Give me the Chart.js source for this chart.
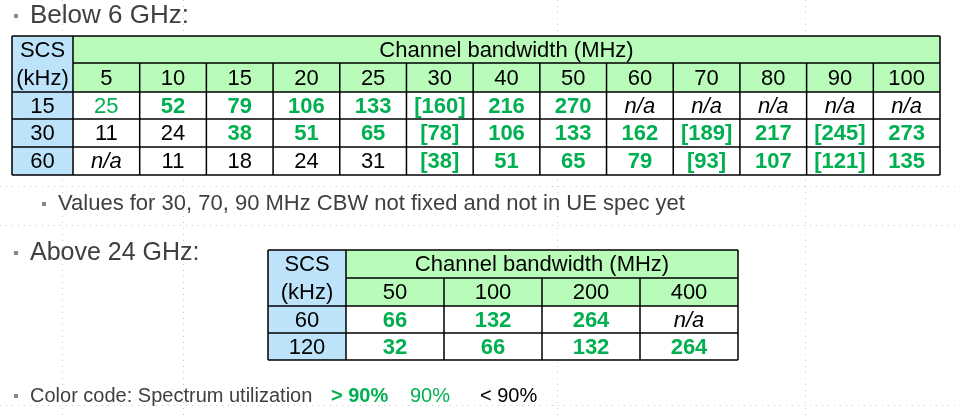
<!DOCTYPE html>
<html lang="en">
<head>
    <meta charset="UTF-8">
    <title>NR max transmission bandwidth (RBs)</title>
    <script src="https://cdn.jsdelivr.net/npm/chart.js"></script>
    <style>
        body { margin: 0; background: #fff; }
        #wrap { width: 956px; height: 417px; }
    </style>
</head>
<body>
    <div id="wrap"><canvas id="tbl"></canvas></div>
    <script>
        // Below 6 GHz table
        const bw1 = ['5', '10', '15', '20', '25', '30', '40', '50', '60', '70', '80', '90', '100'];
        const scs1 = ['15', '30', '60'];
        const val1 = [
            ['25', '52', '79', '106', '133', '[160]', '216', '270', 'n/a', 'n/a', 'n/a', 'n/a', 'n/a'],
            ['11', '24', '38', '51', '65', '[78]', '106', '133', '162', '[189]', '217', '[245]', '273'],
            ['n/a', '11', '18', '24', '31', '[38]', '51', '65', '79', '[93]', '107', '[121]', '135']
        ];
        // g = >90% (bold green), l = 90% (green), b = <90% (black), n = n/a
        const cls1 = [
            ['l', 'g', 'g', 'g', 'g', 'g', 'g', 'g', 'n', 'n', 'n', 'n', 'n'],
            ['b', 'b', 'g', 'g', 'g', 'g', 'g', 'g', 'g', 'g', 'g', 'g', 'g'],
            ['n', 'b', 'b', 'b', 'b', 'g', 'g', 'g', 'g', 'g', 'g', 'g', 'g']
        ];
        // Above 24 GHz table
        const bw2 = ['50', '100', '200', '400'];
        const scs2 = ['60', '120'];
        const val2 = [
            ['66', '132', '264', 'n/a'],
            ['32', '66', '132', '264']
        ];
        const cls2 = [
            ['g', 'g', 'g', 'n'],
            ['g', 'g', 'g', 'g']
        ];

        const GREEN = '#00B050';
        const HEAD_GREEN = '#B9FBB9';
        const HEAD_BLUE = '#BDE3FB';

        function cellFont(c, size, fam) {
            if (c === 'g') return 'bold ' + size + 'px ' + fam;
            if (c === 'n') return 'italic ' + size + 'px ' + fam;
            return size + 'px ' + fam;
        }

        function drawTable(ctx, sx, sy, t) {
            const X = v => sx.getPixelForValue(v);
            const Y = v => sy.getPixelForValue(v);
            const n = t.bw.length;
            const cw = (t.x1 - t.xs) / n;
            const fam = t.font;
            ctx.save();
            ctx.setLineDash([]);
            // fills
            ctx.fillStyle = '#fff';
            ctx.fillRect(X(t.x0), Y(t.ys[0]), X(t.x1) - X(t.x0), Y(t.ys[t.ys.length - 1]) - Y(t.ys[0]));
            ctx.fillStyle = HEAD_BLUE;
            ctx.fillRect(X(t.x0), Y(t.ys[0]), X(t.xs) - X(t.x0), Y(t.ys[t.ys.length - 1]) - Y(t.ys[0]));
            ctx.fillStyle = HEAD_GREEN;
            ctx.fillRect(X(t.xs), Y(t.ys[0]), X(t.x1) - X(t.xs), Y(t.ys[2]) - Y(t.ys[0]));
            // lines
            ctx.strokeStyle = '#000';
            ctx.lineWidth = 1.5;
            ctx.beginPath();
            for (let i = 0; i < t.ys.length; i++) {
                const yy = Y(t.ys[i]);
                const from = (i === 1) ? X(t.xs) : X(t.x0);
                ctx.moveTo(from, yy); ctx.lineTo(X(t.x1), yy);
            }
            ctx.moveTo(X(t.x0), Y(t.ys[0])); ctx.lineTo(X(t.x0), Y(t.ys[t.ys.length - 1]));
            ctx.moveTo(X(t.x1), Y(t.ys[0])); ctx.lineTo(X(t.x1), Y(t.ys[t.ys.length - 1]));
            for (let j = 0; j < n; j++) {
                const xx = X(t.xs + j * cw);
                ctx.moveTo(xx, j === 0 ? Y(t.ys[0]) : Y(t.ys[1]));
                ctx.lineTo(xx, Y(t.ys[t.ys.length - 1]));
            }
            ctx.stroke();
            // text
            ctx.textAlign = 'center';
            ctx.textBaseline = 'middle';
            const fs = t.size;
            const midY = i => (Y(t.ys[i]) + Y(t.ys[i + 1])) / 2 + 1;
            const scsX = (X(t.x0) + X(t.xs)) / 2;
            ctx.fillStyle = '#000';
            ctx.font = fs + 'px ' + fam;
            ctx.fillText('SCS', scsX, midY(0));
            ctx.fillText('(kHz)', scsX, midY(1));
            ctx.fillText('Channel bandwidth (MHz)', (X(t.xs) + X(t.x1)) / 2, midY(0));
            t.bw.forEach((b, j) => ctx.fillText(b, X(t.xs + (j + 0.5) * cw), midY(1)));
            t.scs.forEach((s, i) => {
                ctx.fillStyle = '#000';
                ctx.font = fs + 'px ' + fam;
                ctx.fillText(s, scsX, midY(i + 2));
                t.val[i].forEach((v, j) => {
                    const c = t.cls[i][j];
                    ctx.font = cellFont(c, fs, fam);
                    ctx.fillStyle = (c === 'g' || c === 'l') ? GREEN : '#000';
                    ctx.fillText(v, X(t.xs + (j + 0.5) * cw), midY(i + 2));
                });
            });
            ctx.restore();
        }

        function bullet(ctx, sx, sy, x, y, txt, size, fam, color) {
            ctx.fillStyle = '#888';
            ctx.fillRect(sx.getPixelForValue(x) - 2, sy.getPixelForValue(y) - 2, 4, 4);
            ctx.fillStyle = color || '#404040';
            ctx.font = size + 'px ' + fam;
            ctx.textAlign = 'left';
            ctx.textBaseline = 'middle';
            ctx.fillText(txt, sx.getPixelForValue(x) + 14, sy.getPixelForValue(y));
        }

        const tablePlugin = {
            id: 'tablePlugin',
            afterDatasetsDraw(chart) {
                const ctx = chart.ctx;
                const sx = chart.scales.x, sy = chart.scales.y;
                const sans = '"Liberation Sans", Arial, sans-serif';
                ctx.save();
                ctx.setLineDash([]);
                bullet(ctx, sx, sy, 16, 16, 'Below 6 GHz:', 26, sans);
                drawTable(ctx, sx, sy, {
                    bw: bw1, scs: scs1, val: val1, cls: cls1, font: sans, size: 22,
                    x0: 12, xs: 73, x1: 940, ys: [36, 63, 92, 119, 147, 175]
                });
                bullet(ctx, sx, sy, 44, 204, 'Values for 30, 70, 90 MHz CBW not fixed and not in UE spec yet', 22, sans);
                bullet(ctx, sx, sy, 16, 253, 'Above 24 GHz:', 25, sans);
                drawTable(ctx, sx, sy, {
                    bw: bw2, scs: scs2, val: val2, cls: cls2, font: sans, size: 22,
                    x0: 268, xs: 346, x1: 738, ys: [250, 278, 306, 333, 360]
                });
                bullet(ctx, sx, sy, 16, 396, 'Color code: Spectrum utilization', 20, sans);
                ctx.font = 'bold 20px ' + sans; ctx.fillStyle = GREEN;
                ctx.fillText('> 90%', sx.getPixelForValue(331), sy.getPixelForValue(396));
                ctx.font = '20px ' + sans;
                ctx.fillText('90%', sx.getPixelForValue(410), sy.getPixelForValue(396));
                ctx.fillStyle = '#000';
                ctx.fillText('< 90%', sx.getPixelForValue(480), sy.getPixelForValue(396));
                ctx.restore();
            }
        };

        new Chart(document.getElementById('tbl'), {
            type: 'scatter',
            data: { datasets: [{ data: [] }] },
            options: {
                responsive: true,
                maintainAspectRatio: false,
                animation: false,
                layout: { padding: 0 },
                plugins: { legend: { display: false }, tooltip: { enabled: false } },
                scales: {
                    x: {
                        type: 'linear', min: 0, max: 956, display: true,
                        afterBuildTicks: s => { s.ticks = [62, 183, 557, 805].map(v => ({ value: v })); },
                        ticks: { display: false },
                        border: { display: false, dash: [1, 5] },
                        grid: { color: '#c8c8c8', lineWidth: 1, tickLength: 0 }
                    },
                    y: {
                        type: 'linear', min: 0, max: 417, reverse: true, display: true,
                        afterBuildTicks: s => { s.ticks = [186, 226, 405].map(v => ({ value: v })); },
                        ticks: { display: false },
                        border: { display: false, dash: [1, 5] },
                        grid: { color: '#c8c8c8', lineWidth: 1, tickLength: 0 }
                    }
                }
            },
            plugins: [tablePlugin]
        });
    </script>
</body>
</html>
